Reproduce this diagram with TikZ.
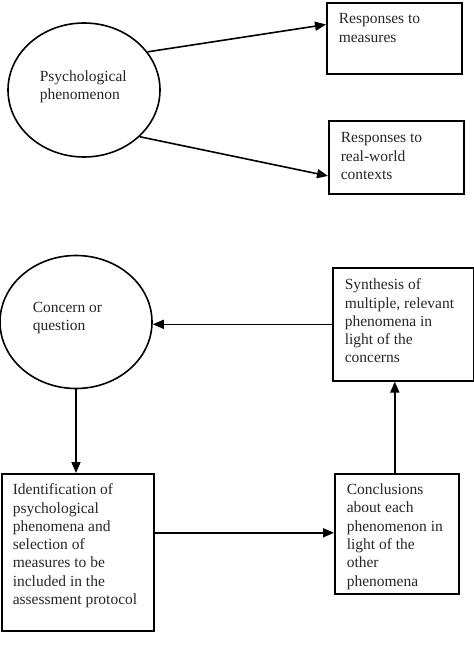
\documentclass[tikz,border=0pt]{standalone}
\usepackage{fontspec}
\setmainfont{Liberation Serif}
\usetikzlibrary{arrows.meta,calc,shapes.geometric}
\begin{document}
\begin{tikzpicture}[x=1bp,y=-1bp,
  line width=1.6bp,
  oval/.style={draw, ellipse, inner sep=0pt},
  box/.style={draw, rectangle, inner sep=0pt, anchor=north west},
  txt/.style={anchor=north west, inner sep=0pt, align=left, text=black!85, font=\fontsize{15.5bp}{18.3bp}\selectfont},
  arr/.style={-{Triangle[length=11bp,width=9bp]}}]
\useasboundingbox (0,0) rectangle (474,659);
% top part
\node[oval, minimum width=152bp, minimum height=134bp] (e1) at (84,90) {};
\node[txt] (t1) at (39,70) {Psychological\\phenomenon};
\node[box, minimum width=135bp, minimum height=71bp] (b1) at (326,2) {};
\node[txt] (tb1) at (338,13) {Responses to\\measures};
\node[box, minimum width=135bp, minimum height=73bp] (b2) at (328,120) {};
\node[txt] (tb2) at (340,132) {Responses to\\real-world\\contexts};
\draw[arr] (e1.31) -- ($(b1.north west)!0.31!(b1.south west)$);
\draw[arr] (e1.-40) -- ($(b2.north west)!0.75!(b2.south west)$);
% bottom part
\node[oval, minimum width=152bp, minimum height=133bp] (e2) at (76,322) {};
\node[txt] (t2) at (32,301) {Concern or\\question};
\node[box, minimum width=141bp, minimum height=113bp] (b5) at (332,267) {};
\node[txt] (tb5) at (344,278) {Synthesis of\\multiple, relevant\\phenomena in\\light of the\\concerns};
\node[box, minimum width=152bp, minimum height=157bp] (b3) at (1,473) {};
\node[txt] (tb3) at (12,483) {Identification of\\psychological\\phenomena and\\selection of\\measures to be\\included in the\\assessment protocol};
\node[box, minimum width=124bp, minimum height=120bp] (b4) at (334,473) {};
\node[txt] (tb4) at (346,483) {Conclusions\\about each\\phenomenon in\\light of the\\other\\phenomena};
\draw[arr] (e2.south) -- (e2.south |- b3.north);
\draw[arr] ($(b3.east)+(0,-19.5)$) coordinate (c1) -- (c1 -| b4.west);
\draw[arr] ($(b4.north)+(-2,0)$) coordinate (c2) -- (c2 |- b5.south);
\draw[arr] (b5.west) -- (b5.west -| e2.east);
\end{tikzpicture}
\end{document}
